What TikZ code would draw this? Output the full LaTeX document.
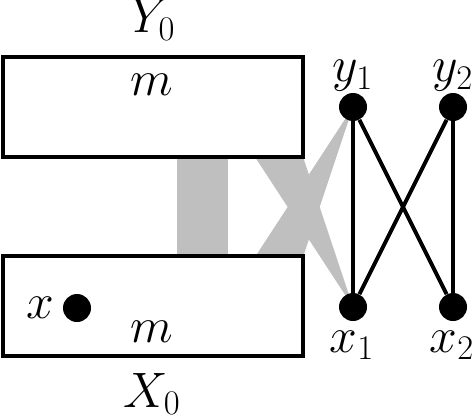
\documentclass[tikz,border=0pt]{standalone}
\usepackage{tikz}
\usetikzlibrary{positioning, backgrounds}
\tikzset{
  block/.style={rectangle, draw, line width=2pt, inner sep=0pt, minimum width=150pt, minimum height=50pt},
  dot/.style={circle, fill, inner sep=0pt, minimum size=14pt},
  edge/.style={line width=2pt},
  band/.style={fill=black!25},
  lbl/.style={inner sep=0pt, anchor=base}
}
\begin{document}
\begin{tikzpicture}[x=0.5pt, y=-0.5pt, font=\fontsize{23}{28}\selectfont]
    \useasboundingbox (0,0) rectangle (475,417);
    \node[block] (Ybox) at (153,107) {};
    \node[block] (Xbox) at (153,306) {};
    \node[lbl] (Ylab) at (153,33) {$Y_0$};
    \node[lbl] (Ym) at (152,95) {$m$};
    \node[lbl] (Xm) at (152,342) {$m$};
    \node[lbl] (Xlab) at (152,407) {$X_0$};
    \node[dot] (x) at (77,308) {};
    \node[lbl] (xlab) at (40,318) {$x$};
    \node[dot] (y1) at (353,107) {};
    \node[dot] (y2) at (453,107) {};
    \node[dot] (x1) at (353,307) {};
    \node[dot] (x2) at (453,307) {};
    \node[lbl] (y1lab) at (353,82) {$y_1$};
    \node[lbl] (y2lab) at (453,82) {$y_2$};
    \node[lbl] (x1lab) at (352,352) {$x_1$};
    \node[lbl] (x2lab) at (452,352) {$x_2$};
    \draw[edge] (y1) -- (x1);
    \draw[edge] (y1) -- (x2);
    \draw[edge] (y2) -- (x1);
    \draw[edge] (y2) -- (x2);
    \begin{scope}[on background layer]
      \fill[band] (177,157) rectangle (228,257);
      \fill[band] (255,157) -- (303,157) -- (x1.center) -- cycle;
      \fill[band] (255,257) -- (303,257) -- (y1.center) -- cycle;
    \end{scope}
  \end{tikzpicture}
\end{document}
